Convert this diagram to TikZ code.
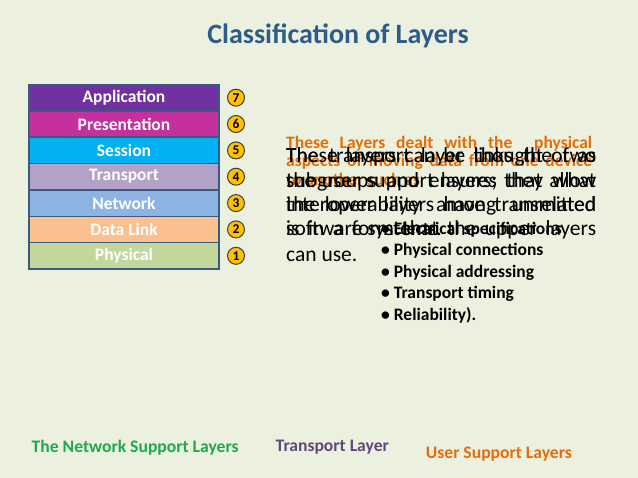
\documentclass[tikz,border=0pt]{standalone}
\usepackage{fontspec}
\setmainfont{Carlito}
\definecolor{bg}{HTML}{EBF1DE}
\definecolor{titleblue}{HTML}{2E5C8A}
\definecolor{boxline}{HTML}{3A5A80}
\definecolor{cApp}{HTML}{7030A0}
\definecolor{cPre}{HTML}{C4309E}
\definecolor{cSes}{HTML}{00B0F0}
\definecolor{cTra}{HTML}{B2A2C7}
\definecolor{cNet}{HTML}{8DB3E2}
\definecolor{cDat}{HTML}{FAC090}
\definecolor{cPhy}{HTML}{C3D69B}
\definecolor{gold}{HTML}{FFC000}
\definecolor{orangeT}{HTML}{E46C0A}
\definecolor{greenT}{HTML}{1FA84F}
\definecolor{purpleT}{HTML}{5F497A}
\tikzset{
  layerbox/.style={draw=boxline, line width=1.4pt, minimum width=190pt, minimum height=26.35pt, inner sep=0pt, text=white, font=\bfseries\fontsize{17.5}{19}\selectfont},
  numbadge/.style={circle, draw=black!75, line width=1pt, fill=gold, minimum size=17pt, inner sep=0pt, font=\bfseries\fontsize{13.5}{14}\selectfont},
  orangeline/.style={anchor=base west, inner sep=0pt, text=orangeT, font=\bfseries\fontsize{17.5}{19}\selectfont},
  blackline/.style={anchor=base west, inner sep=0pt, text=black, font=\fontsize{21.5}{24}\selectfont},
  bulletline/.style={anchor=base west, inner sep=0pt, text=black, font=\bfseries\fontsize{17.5}{20}\selectfont},
  footlabel/.style={anchor=base west, inner sep=0pt, font=\bfseries\fontsize{17.6}{20}\selectfont}
}
\newcommand{\jline}[2]{\makebox[#1][s]{#2}}
\begin{document}
\begin{tikzpicture}[x=1pt,y=-1pt]
\useasboundingbox[fill=bg] (0,0) rectangle (638,478);
% title
\node[anchor=base, inner sep=0pt, text=titleblue, font=\bfseries\fontsize{28}{30}\selectfont] (title) at (338,43.5) {Classification of Layers};
% layer stack
\node[layerbox, fill=cApp] (app) at (124,97.7) {Application};
\node[layerbox, fill=cPre] (pre) at (124,124.0) {Presentation};
\node[layerbox, fill=cSes] (ses) at (124,150.4) {Session};
\node[layerbox, fill=cTra] (tra) at (124,176.7) {Transport};
\node[layerbox, fill=cNet] (net) at (124,203.1) {Network};
\node[layerbox, fill=cDat] (dat) at (124,229.4) {Data Link};
\node[layerbox, fill=cPhy] (phy) at (124,255.8) {Physical};
% number badges
\node[numbadge] (n7) at (236,97.7) {7};
\node[numbadge] (n6) at (236,124.0) {6};
\node[numbadge] (n5) at (236,150.4) {5};
\node[numbadge] (n4) at (236,176.7) {4};
\node[numbadge] (n3) at (236,203.1) {3};
\node[numbadge] (n2) at (236,229.4) {2};
\node[numbadge] (n1) at (236,255.8) {1};
% orange text (network support layers)
\node[orangeline] (o1) at (286,148.3) {\jline{306pt}{These Layers dealt with the \ physical}};
\node[orangeline] (o2) at (286,166.8) {\jline{306pt}{aspects of moving data from one device}};
\node[orangeline] (o3) at (286,185.3) {to another such as};
% bullets
\node[bulletline] (b1) at (381,234.5) {\textbullet\ Electrical specifications};
\node[bulletline] (b2) at (381,256) {\textbullet\ Physical connections};
\node[bulletline] (b3) at (381,277.5) {\textbullet\ Physical addressing};
\node[bulletline] (b4) at (381,299) {\textbullet\ Transport timing};
\node[bulletline] (b5) at (381,320.5) {\textbullet\ Reliability).};
% black text A (user support layers)
\node[blackline] (a1) at (286,162.7) {\jline{310pt}{These layers can be thought of as}};
\node[blackline] (a2) at (286,187.1) {\jline{310pt}{the user support layers; they allow}};
\node[blackline] (a3) at (286,211.5) {\jline{310pt}{interoperability among unrelated}};
\node[blackline] (a4) at (286,235.9) {software systems.};
% black text B (transport layer)
\node[blackline] (t1) at (286,162.7) {\jline{310pt}{The transport layer links the two}};
\node[blackline] (t2) at (286,187.1) {\jline{310pt}{subgroups and ensures that what}};
\node[blackline] (t3) at (286,211.5) {\jline{310pt}{the lower layers have transmitted}};
\node[blackline] (t4) at (286,235.9) {\jline{310pt}{is in a form that the upper layers}};
\node[blackline] (t5) at (286,262) {can use.};
% footer labels
\node[footlabel, text=greenT] (f1) at (31.5,453) {The Network Support Layers};
\node[footlabel, text=purpleT] (f2) at (275.5,452) {Transport Layer};
\node[footlabel, text=orangeT] (f3) at (425.7,459) {User Support Layers};
\end{tikzpicture}
\end{document}
